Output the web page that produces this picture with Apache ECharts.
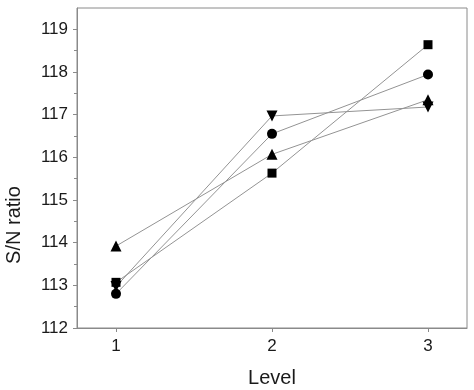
<!DOCTYPE html>
<html>
<head>
<meta charset="utf-8">
<script src="https://cdn.jsdelivr.net/npm/echarts@6/dist/echarts.min.js"></script>
<style>
  html, body { margin: 0; padding: 0; background: #fff; }
  #main { width: 474px; height: 390px; }
</style>
</head>
<body>
<div id="main"></div>
<script>
// levels on the x axis
var levels = [1, 2, 3];
// S/N ratio per factor, one series per marker
var sqVals = [113.07, 115.63, 118.64];
var circVals = [112.8, 116.55, 117.94];
var triUpVals = [113.92, 116.07, 117.35];
var triDownVals = [112.97, 116.97, 117.18];
var yTicks = [112, 113, 114, 115, 116, 117, 118, 119];

var myChart = echarts.init(document.getElementById('main'));

function mk(vals, symbol, size, rot) {
  return {
    type: 'line',
    data: levels.map(function (l, i) { return [l, vals[i]]; }),
    symbol: symbol,
    symbolSize: size,
    symbolRotate: rot || 0,
    showAllSymbol: true,
    itemStyle: { color: '#000' },
    lineStyle: { color: '#939393', width: 1 },
    emphasis: { disabled: true },
    z: 3
  };
}

var axisCol = '#8a8a8a';
var txt = { color: '#1a1a1a', fontSize: 17, fontFamily: 'Liberation Sans' };

option = {
  animation: false,
  grid: {
    left: 77, right: 7, top: 8, bottom: 62,
    outerBoundsMode: 'none',
    show: true, borderColor: axisCol, borderWidth: 1
  },
  xAxis: {
    type: 'value',
    min: 0.75, max: 3.25,
    name: 'Level',
    nameLocation: 'middle',
    nameGap: 40,
    nameTextStyle: { color: '#1a1a1a', fontSize: 20, fontFamily: 'Liberation Sans' },
    splitLine: { show: false },
    axisLine: { lineStyle: { color: axisCol } },
    axisTick: { show: true, length: 4, customValues: levels, lineStyle: { color: axisCol } },
    axisLabel: Object.assign({ customValues: levels, margin: 10 }, txt)
  },
  yAxis: {
    type: 'value',
    min: 112, max: 119.5, interval: 1,
    name: 'S/N ratio',
    nameLocation: 'middle',
    nameGap: 53,
    nameTextStyle: { color: '#1a1a1a', fontSize: 20, fontFamily: 'Liberation Sans', padding: [0, 114, 0, 0] },
    splitLine: { show: false },
    axisLine: { show: true, lineStyle: { color: axisCol } },
    axisTick: { show: true, length: 4, customValues: yTicks, lineStyle: { color: axisCol } },
    minorTick: { show: true, splitNumber: 2, length: 3, lineStyle: { color: axisCol } },
    axisLabel: Object.assign({ margin: 9, customValues: yTicks }, txt)
  },
  series: [
    mk(sqVals, 'rect', 9),
    mk(circVals, 'circle', 10),
    mk(triUpVals, 'triangle', 11),
    mk(triDownVals, 'triangle', 11, 180)
  ]
};
myChart.setOption(option);
</script>
</body>
</html>
